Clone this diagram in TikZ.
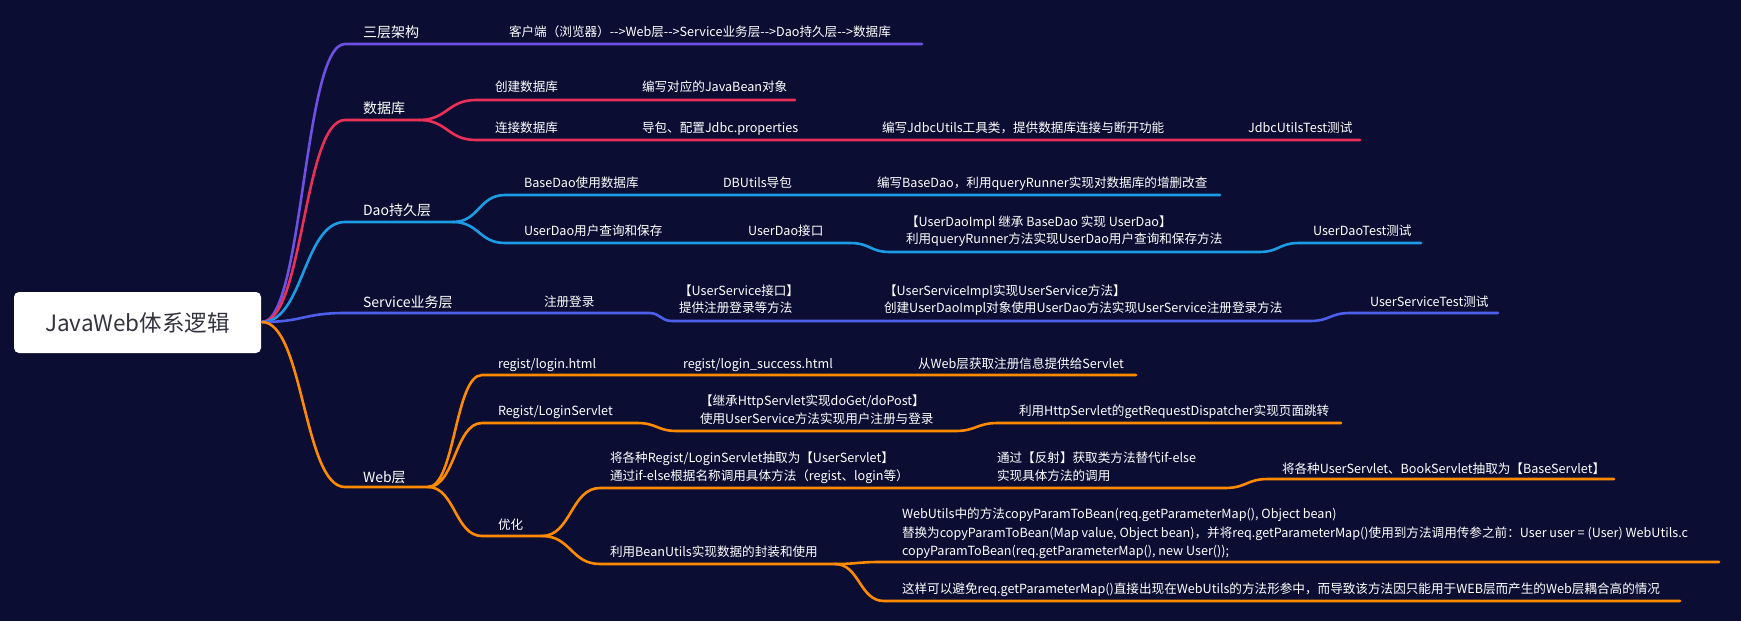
\documentclass[tikz,border=0pt]{standalone}
\usepackage{fontspec}
\newfontfamily\cjk{Noto Sans CJK SC}
\usetikzlibrary{calc}
\definecolor{bgc}{RGB}{11,14,50}
\definecolor{cpur}{RGB}{110,80,226}
\definecolor{cred}{RGB}{234,48,88}
\definecolor{cblu}{RGB}{28,156,228}
\definecolor{cind}{RGB}{76,94,234}
\definecolor{cora}{RGB}{255,138,0}
\definecolor{croot}{RGB}{52,52,64}
\begin{document}
\begin{tikzpicture}[x=1pt,y=-1pt,
  every node/.style={inner sep=0pt,outer sep=0pt},
  lvone/.style={anchor=base west,text=white,font=\cjk\fontsize{14}{16}\selectfont},
  lvtwo/.style={anchor=base west,text=white,font=\cjk\fontsize{12.6}{15}\selectfont},
  br/.style={line width=2.6pt,line cap=round,line join=round},
  scurve/.style={to path={.. controls ($(\tikztostart)!0.5!(\tikztotarget|-\tikztostart)$) and ($(\tikztotarget)!0.5!(\tikztostart|-\tikztotarget)$) .. (\tikztotarget)}}]
\fill[bgc] (0,0) rectangle (1741,621);
\useasboundingbox (0,0) rectangle (1741,621);

% root
\node[fill=white,rounded corners=5pt,minimum width=247pt,minimum height=61pt,text=croot,font=\cjk\fontsize{22.5}{26}\selectfont] (root) at (137.5,322.5) {JavaWeb体系逻辑};
\coordinate (rp) at (262,322);

% ---------- coordinates ----------
% purple
\coordinate (p1s) at (345,44); \coordinate (p1m) at (470,44); \coordinate (p1e) at (922,44);
% red
\coordinate (r1s) at (345,120); \coordinate (r1e) at (419,120);
\coordinate (r2s) at (476,100); \coordinate (r2m) at (625,100); \coordinate (r2e) at (795,100);
\coordinate (r3s) at (476,140); \coordinate (r3m) at (625,140); \coordinate (r3n) at (865,140); \coordinate (r3o) at (1232,140); \coordinate (r3e) at (1360,140);
% blue
\coordinate (b1s) at (345,222); \coordinate (b1e) at (453,222);
\coordinate (b2s) at (505,195); \coordinate (b2m) at (705,195); \coordinate (b2n) at (860,195); \coordinate (b2e) at (1220,195);
\coordinate (b3s) at (505,243); \coordinate (b3m) at (730,243); \coordinate (b3a) at (850,243); \coordinate (b3b) at (890,252); \coordinate (b3c) at (1259,252); \coordinate (b3d) at (1299,243); \coordinate (b3e) at (1421,243);
% indigo
\coordinate (s1s) at (345,313); \coordinate (s1e) at (467,313); \coordinate (s2e) at (649,313); \coordinate (s3s) at (672,321); \coordinate (s3e) at (865,321); \coordinate (s4e) at (1310,321); \coordinate (s5s) at (1350,313); \coordinate (s5e) at (1498,313);
% orange
\coordinate (w1s) at (345,487); \coordinate (w1e) at (428,487);
\coordinate (w2s) at (482,375); \coordinate (w2m) at (665,375); \coordinate (w2n) at (900,375); \coordinate (w2e) at (1136,375);
\coordinate (w3s) at (482,423); \coordinate (w3a) at (637,423); \coordinate (w3b) at (677,431); \coordinate (w3c) at (955,431); \coordinate (w3d) at (998,423); \coordinate (w3e) at (1341,423);
\coordinate (w4s) at (482,536); \coordinate (w4e) at (542,536);
\coordinate (w5s) at (600,488); \coordinate (w5m) at (980,488); \coordinate (w5a) at (1225,488); \coordinate (w5b) at (1268,479); \coordinate (w5e) at (1614,479);
\coordinate (w6s) at (600,564); \coordinate (w6e) at (835,564);
\coordinate (w7s) at (880,562); \coordinate (w7e) at (1719,562);
\coordinate (w8s) at (884,601); \coordinate (w8e) at (1680,601);

% ---------- connectors ----------
\draw[br,cpur] (rp) to[scurve] (p1s) -- (p1m) -- (p1e);
\draw[br,cred] (rp) to[scurve] (r1s) -- (r1e);
\draw[br,cred] (r1e) to[scurve] (r2s) -- (r2m) -- (r2e);
\draw[br,cred] (r1e) to[scurve] (r3s) -- (r3m) -- (r3n) -- (r3o) -- (r3e);
\draw[br,cblu] (rp) to[scurve] (b1s) -- (b1e);
\draw[br,cblu] (b1e) to[scurve] (b2s) -- (b2m) -- (b2n) -- (b2e);
\draw[br,cblu] (b1e) to[scurve] (b3s) -- (b3m) -- (b3a) to[scurve] (b3b) -- (b3c) to[scurve] (b3d) -- (b3e);
\draw[br,cind] (rp) to[scurve] (s1s) -- (s1e) -- (s2e) to[scurve] (s3s) -- (s3e) -- (s4e) to[scurve] (s5s) -- (s5e);
\draw[br,cora] (rp) to[scurve] (w1s) -- (w1e);
\draw[br,cora] (w1e) to[scurve] (w2s) -- (w2m) -- (w2n) -- (w2e);
\draw[br,cora] (w1e) to[scurve] (w3s) -- (w3a) to[scurve] (w3b) -- (w3c) to[scurve] (w3d) -- (w3e);
\draw[br,cora] (w1e) to[scurve] (w4s) -- (w4e);
\draw[br,cora] (w4e) to[scurve] (w5s) -- (w5m) -- (w5a) to[scurve] (w5b) -- (w5e);
\draw[br,cora] (w4e) to[scurve] (w6s) -- (w6e);
\draw[br,cora] (w6e) to[scurve] (w7s) -- (w7e);
\draw[br,cora] (w6e) to[scurve] (w8s) -- (w8e);

% ---------- texts ----------
\node[lvone] (t11) at (363,37) {三层架构};
\node[lvtwo] (t12) at (509,36.5) {客户端（浏览器）-->Web层-->Service业务层-->Dao持久层-->数据库};

\node[lvone] (t21) at (363,113) {数据库};
\node[lvtwo] (t22) at (495,91.5) {创建数据库};
\node[lvtwo] (t23) at (642,91.5) {编写对应的JavaBean对象};
\node[lvtwo] (t24) at (495,132.5) {连接数据库};
\node[lvtwo] (t25) at (642,132.5) {导包、配置Jdbc.properties};
\node[lvtwo] (t26) at (882,132.5) {编写JdbcUtils工具类，提供数据库连接与断开功能};
\node[lvtwo] (t27) at (1248,132.5) {JdbcUtilsTest测试};

\node[lvone] (t31) at (363,215) {Dao持久层};
\node[lvtwo] (t32) at (524,187.5) {BaseDao使用数据库};
\node[lvtwo] (t33) at (723,187.5) {DBUtils导包};
\node[lvtwo] (t34) at (877,187.5) {编写BaseDao，利用queryRunner实现对数据库的增删改查};
\node[lvtwo] (t35) at (524,235.5) {UserDao用户查询和保存};
\node[lvtwo] (t36) at (748,235.5) {UserDao接口};
\node[lvtwo] (t37a) at (906,226.5) {【UserDaoImpl 继承 BaseDao 实现 UserDao】};
\node[lvtwo] (t37b) at (906,243.5) {利用queryRunner方法实现UserDao用户查询和保存方法};
\node[lvtwo] (t38) at (1313,235.5) {UserDaoTest测试};

\node[lvone] (t41) at (363,307) {Service业务层};
\node[lvtwo] (t42) at (544,306.5) {注册登录};
\node[lvtwo] (t43a) at (679,295.5) {【UserService接口】};
\node[lvtwo] (t43b) at (679,312.5) {提供注册登录等方法};
\node[lvtwo] (t44a) at (884,295.5) {【UserServiceImpl实现UserService方法】};
\node[lvtwo] (t44b) at (884,312.5) {创建UserDaoImpl对象使用UserDao方法实现UserService注册登录方法};
\node[lvtwo] (t45) at (1370,306.5) {UserServiceTest测试};

\node[lvone] (t51) at (363,482) {Web层};
\node[lvtwo] (t52) at (498,368.5) {regist/login.html};
\node[lvtwo] (t53) at (683,368.5) {regist/login\_success.html};
\node[lvtwo] (t54) at (918,368.5) {从Web层获取注册信息提供给Servlet};
\node[lvtwo] (t55) at (498,415.5) {Regist/LoginServlet};
\node[lvtwo] (t56a) at (700,405.5) {【继承HttpServlet实现doGet/doPost】};
\node[lvtwo] (t56b) at (700,423.5) {使用UserService方法实现用户注册与登录};
\node[lvtwo] (t57) at (1019,415.5) {利用HttpServlet的getRequestDispatcher实现页面跳转};
\node[lvtwo] (t58) at (498,529.5) {优化};
\node[lvtwo] (t59a) at (610,462.5) {将各种Regist/LoginServlet抽取为【UserServlet】};
\node[lvtwo] (t59b) at (610,480.5) {通过if-else根据名称调用具体方法（regist、login等）};
\node[lvtwo] (t5aa) at (997,462.5) {通过【反射】获取类方法替代if-else};
\node[lvtwo] (t5ab) at (997,480.5) {实现具体方法的调用};
\node[lvtwo] (t5b) at (1282,473.5) {将各种UserServlet、BookServlet抽取为【BaseServlet】};
\node[lvtwo] (t5c) at (610,556.5) {利用BeanUtils实现数据的封装和使用};
\node[lvtwo] (t5da) at (902,518.5) {WebUtils中的方法copyParamToBean(req.getParameterMap(), Object bean)};
\node[lvtwo] (t5db) at (902,537.5) {替换为copyParamToBean(Map value, Object bean)，并将req.getParameterMap()使用到方法调用传参之前：User user = (User) WebUtils.c};
\node[lvtwo] (t5dc) at (902,555.5) {copyParamToBean(req.getParameterMap(), new User());};
\node[lvtwo] (t5e) at (902,593.5) {这样可以避免req.getParameterMap()直接出现在WebUtils的方法形参中，而导致该方法因只能用于WEB层而产生的Web层耦合高的情况};
\end{tikzpicture}
\end{document}
